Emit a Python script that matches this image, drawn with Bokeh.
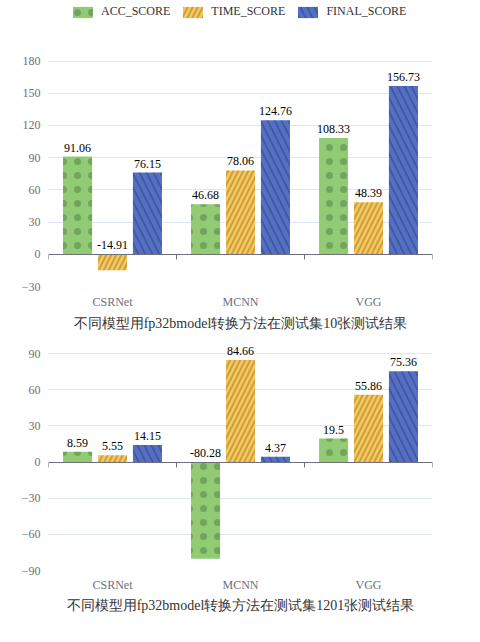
from bokeh.plotting import figure
from bokeh.models import ColumnDataSource, Range1d, FixedTicker, LinearAxis
from bokeh.transform import dodge
from bokeh.layouts import column
from bokeh.embed import file_html
from bokeh.resources import INLINE
from bokeh.core.properties import value

categories = ["CSRNet", "MCNN", "VGG"]
series_names = ["ACC_SCORE", "TIME_SCORE", "FINAL_SCORE"]
acc_10 = [91.06, 46.68, 108.33]
time_10 = [-14.91, 78.06, 48.39]
final_10 = [76.15, 124.76, 156.73]
acc_1201 = [8.59, -80.28, 19.5]
time_1201 = [5.55, 84.66, 55.86]
final_1201 = [14.15, 4.37, 75.36]
yticks_10 = [-30, 0, 30, 60, 90, 120, 150, 180]
yticks_1201 = [-90, -60, -30, 0, 30, 60, 90]
title_10 = "不同模型用fp32bmodel转换方法在测试集10张测试结果"
title_1201 = "不同模型用fp32bmodel转换方法在测试集1201张测试结果"

colors = ["#91cc75", "#fac858", "#5470c6"]
hatches = ["dot", "right_diagonal_line", "left_diagonal_line"]
hatch_scales = [14, 10, 14]
hatch_weights = [4, 2, 2]
offsets = [-0.273, 0, 0.273]
FONT = "Liberation Serif"
GREY = "#6E7079"


def make_chart(series, yticks, title, height, border_top, border_bottom, top_pad,
               label_standoff, title_standoff, show_legend):
    p = figure(width=480, height=height,
               x_range=Range1d(0, len(categories)),
               y_range=Range1d(min(yticks), max(yticks) + top_pad),
               output_backend="svg", toolbar_location=None,
               min_border_left=48, min_border_right=48,
               min_border_top=border_top, min_border_bottom=border_bottom)
    centers = [i + 0.5 for i in range(len(categories))]
    data = dict(x=centers)
    for name, vals in zip(series_names, series):
        data[name] = vals
        data[name + "_ly"] = [max(v, 0) for v in vals]
        data[name + "_lt"] = [f"{v:g}" for v in vals]
    src = ColumnDataSource(data)
    for name, off, col, hp, hs, hw in zip(series_names, offsets, colors, hatches, hatch_scales, hatch_weights):
        kw = dict(legend_label=name) if show_legend else {}
        p.vbar(x=dodge("x", off), top=name, bottom=0, width=0.227, source=src,
               fill_color=col, line_color=None, hatch_pattern=hp, hatch_color="black",
               hatch_alpha=0.2, hatch_scale=hs, hatch_weight=hw, **kw)
        p.text(x=dodge("x", off), y=name + "_ly", text=name + "_lt", source=src,
               text_align="center", text_baseline="bottom", y_offset=-5,
               text_font=value(FONT), text_font_size="12px", text_color="#000000")

    xa = p.xaxis[0]
    xa.ticker = FixedTicker(ticks=centers)
    xa.major_label_overrides = {c: lab for c, lab in zip(centers, categories)}
    xa.axis_line_color = None
    xa.major_tick_line_color = None
    xa.minor_tick_line_color = None
    xa.major_tick_out = 0
    xa.major_label_standoff = label_standoff
    xa.major_label_text_font = FONT
    xa.major_label_text_font_size = "12px"
    xa.major_label_text_color = GREY
    xa.axis_label = title
    xa.axis_label_standoff = title_standoff
    xa.axis_label_text_font = FONT
    xa.axis_label_text_font_size = "14px"
    xa.axis_label_text_font_style = "normal"
    xa.axis_label_text_color = "#333333"

    bounds = list(range(len(categories) + 1))
    za = LinearAxis(fixed_location=0,
                    ticker=FixedTicker(ticks=bounds),
                    major_label_overrides={b: "" for b in bounds},
                    major_tick_in=5, major_tick_out=0, major_label_standoff=0,
                    axis_line_color=GREY, major_tick_line_color=GREY,
                    minor_tick_line_color=None)
    p.add_layout(za, "above")

    ya = p.yaxis[0]
    ya.ticker = FixedTicker(ticks=yticks)
    ya.axis_line_color = None
    ya.major_tick_line_color = None
    ya.minor_tick_line_color = None
    ya.major_tick_out = 0
    ya.major_label_standoff = 8
    ya.major_label_text_font = FONT
    ya.major_label_text_font_size = "12px"
    ya.major_label_text_color = GREY

    p.ygrid.grid_line_color = "#E0E6F1"
    p.xgrid.grid_line_color = None
    p.outline_line_color = None

    if show_legend:
        lg = p.legend[0]
        lg.orientation = "horizontal"
        lg.location = (22, 267)
        lg.glyph_width = 25
        lg.glyph_height = 14
        lg.label_height = 14
        lg.label_standoff = 6
        lg.spacing = 10
        lg.padding = 0
        lg.margin = 0
        lg.border_line_color = None
        lg.background_fill_alpha = 0
        lg.label_text_font = FONT
        lg.label_text_font_size = "12px"
        lg.label_text_color = "#333333"
    return p


p1 = make_chart([acc_10, time_10, final_10], yticks_10, title_10,
                333, 0, 45, 56.4, 8, 4, True)
p2 = make_chart([acc_1201, time_1201, final_1201], yticks_1201, title_1201,
                293, 2, 56, 15, 7, 3, False)

layout = column(p1, p2)
open("out.html", "w").write(file_html(layout, INLINE))
